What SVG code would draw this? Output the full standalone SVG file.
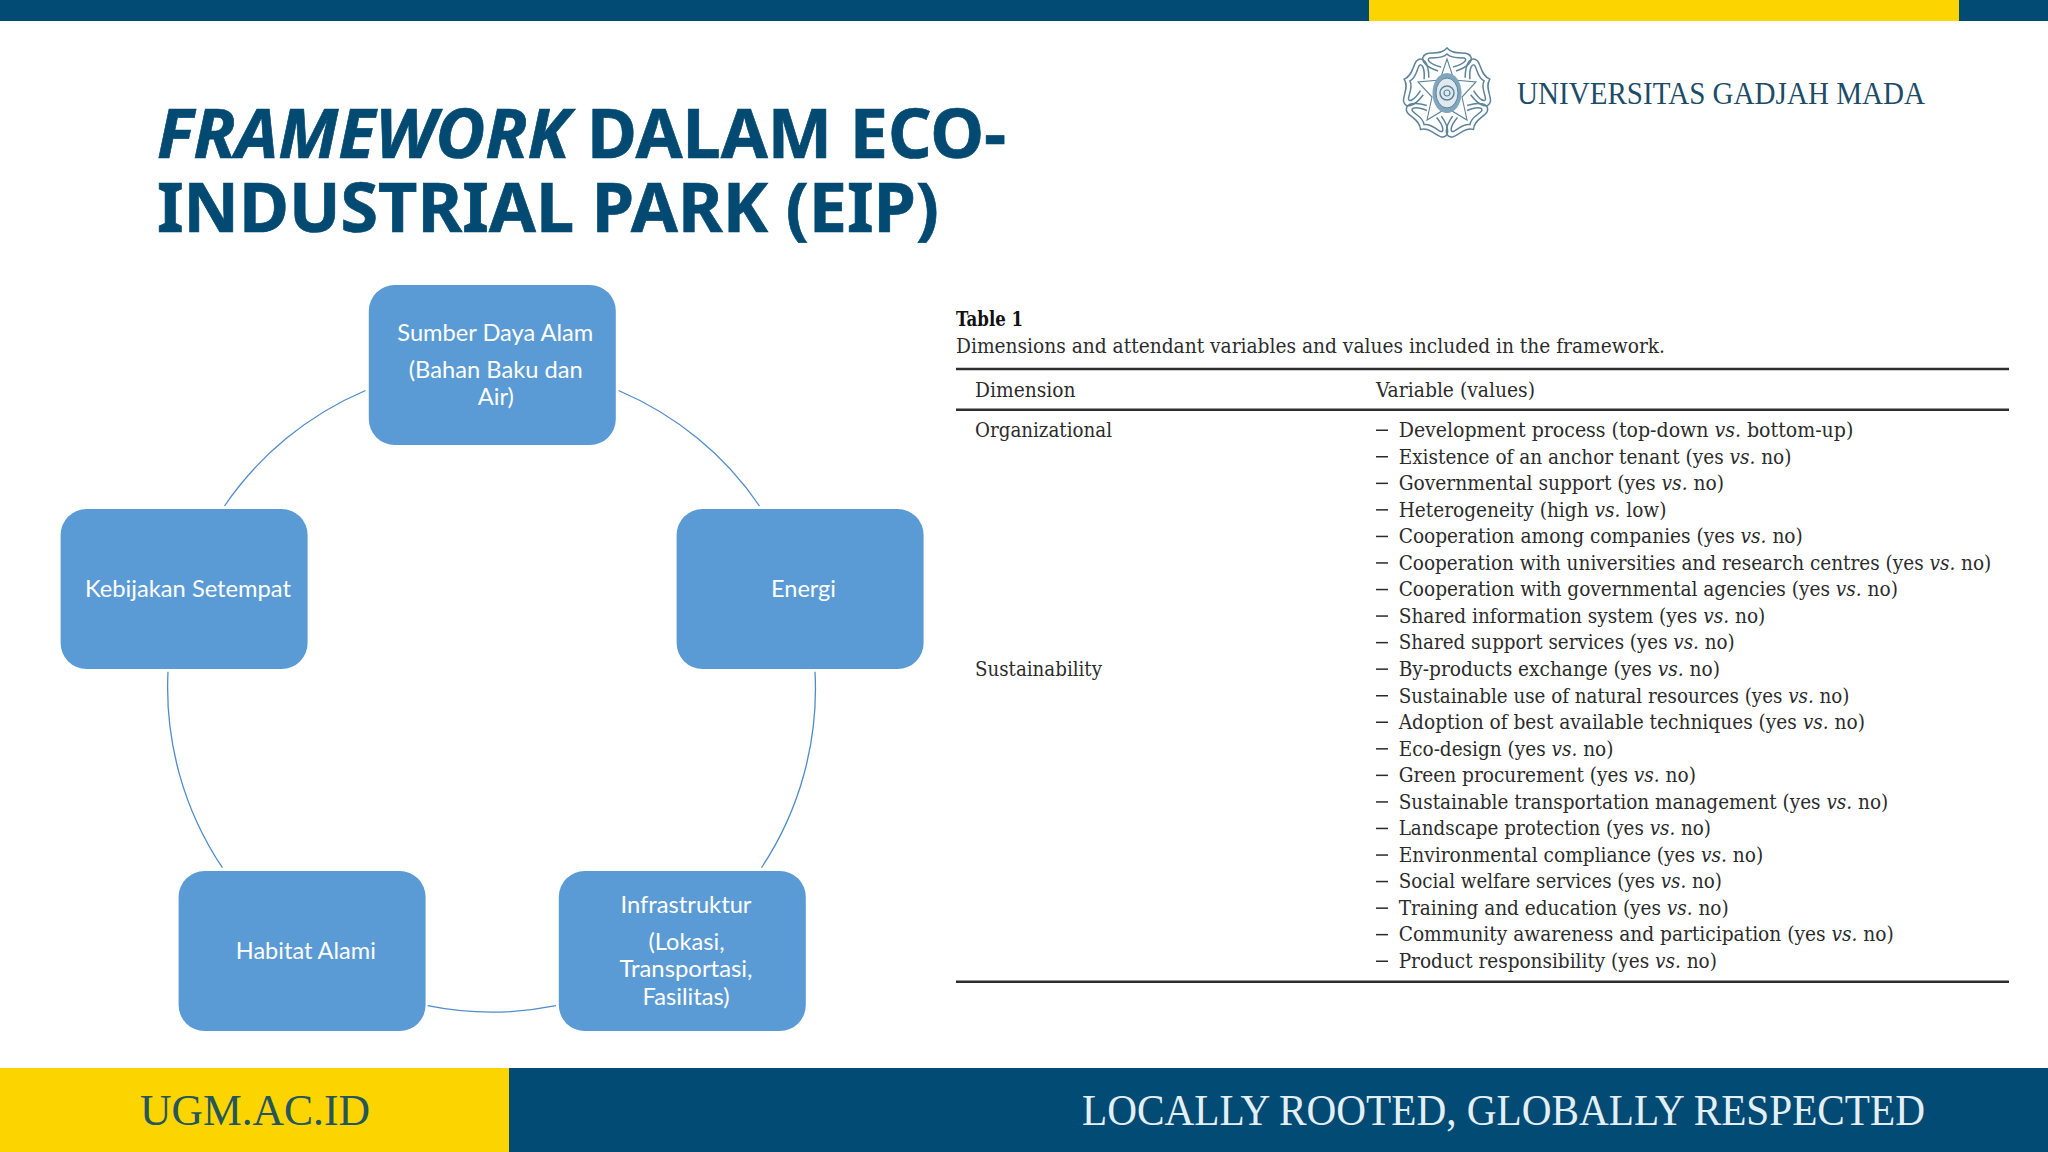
<svg xmlns="http://www.w3.org/2000/svg" xmlns:xlink="http://www.w3.org/1999/xlink" width="2048" height="1152" viewBox="0 0 2048 1152">
<style>
.navy{fill:#024b74}.gold{fill:#fcd500}
.title{font:700 68px "Noto Sans",sans-serif;fill:#034a73;stroke:#034a73;stroke-width:.7}
.n{fill:#5b9bd5}
.nt{font:24px Lato,"Noto Sans",sans-serif;fill:#fff;text-anchor:middle}
.arc{fill:none;stroke:#4f8cc9;stroke-width:1.3}
.tt{font:20px "DejaVu Serif Condensed","DejaVu Serif",serif;fill:#2b2b2b}
.tb{font-weight:700;fill:#111}
.rule{stroke:#2e2e2e;stroke-width:2.4}
.brand{font-family:"Liberation Serif",serif}
.lg{fill:none;stroke:#5d8499;stroke-width:1.5}
</style>
<defs>
<g id="petal">
<path d="M-9,-22C-24,-27 -28,-35 -21,-39C-15,-41 -6,-38 0,-45C6,-38 15,-41 21,-39C28,-35 24,-27 9,-22"/>
<path d="M-6,-26C-18,-29 -21,-34 -17,-35C-11,-36 -5,-34 0,-39C5,-34 11,-36 17,-35C21,-34 18,-29 6,-26"/>
</g>
</defs>
<rect width="2048" height="1152" fill="#fff"/>
<g id="frame">
<rect class="navy" width="2048" height="21"/>
<rect class="gold" x="1369" width="590" height="21"/>
<rect class="gold" y="1068" width="509" height="84"/>
<rect class="navy" x="509" y="1068" width="1539" height="84"/>
<text class="brand" x="140" y="1125" font-size="45" fill="#24565c" textLength="230" lengthAdjust="spacingAndGlyphs">UGM.AC.ID</text>
<text class="brand" x="1082" y="1125" font-size="45" fill="#e4eff5" textLength="843" lengthAdjust="spacingAndGlyphs">LOCALLY ROOTED, GLOBALLY RESPECTED</text>
</g>
<g id="logo" transform="translate(1447 93)">
<g class="lg">
<use xlink:href="#petal"/><use xlink:href="#petal" transform="rotate(72)"/><use xlink:href="#petal" transform="rotate(144)"/><use xlink:href="#petal" transform="rotate(216)"/><use xlink:href="#petal" transform="rotate(288)"/>
<path stroke-width="1.1" d="M0,-34L7,-13 29,-11 15,4 20,27 0,15 -20,27 -15,4 -29,-11 -7,-13Z"/>
</g>
<ellipse rx="14.500" ry="20" fill="#7fa6bd"/>
<ellipse rx="11" ry="15" fill="#dfe9ef" stroke="#5d8499"/>
<circle r="7" fill="none" stroke="#5d8499" stroke-width="1.5"/>
<circle r="3" fill="none" stroke="#5d8499" stroke-width="1.2"/>
</g>
<text class="brand" x="1517" y="104" font-size="32" fill="#1d4c68" textLength="408" lengthAdjust="spacingAndGlyphs">UNIVERSITAS GADJAH MADA</text>
<text id="title" class="title"><tspan x="157" y="158" textLength="849" lengthAdjust="spacingAndGlyphs"><tspan font-style="italic">FRAMEWORK</tspan> DALAM ECO-</tspan><tspan x="157" y="232" textLength="782" lengthAdjust="spacingAndGlyphs">INDUSTRIAL PARK (EIP)</tspan></text>
<g id="connectors">
<path class="arc" d="M618.5,390.5A323.5,323.5 0 0 1 759.5,506"/>
<path class="arc" d="M815,671.7A323.5,323.5 0 0 1 761.5,867.7"/>
<path class="arc" d="M556,1005.7A323.5,323.5 0 0 1 427.6,1005.7"/>
<path class="arc" d="M222.4,867.7A323.5,323.5 0 0 1 168,671.7"/>
<path class="arc" d="M224.5,506A323.5,323.5 0 0 1 365.5,390.5"/>
</g>
<g id="node-sumber"><rect class="n" x="368.800" y="285" width="247" height="160" rx="26"/>
<text class="nt" x="495.3" y="341" textLength="196" lengthAdjust="spacingAndGlyphs">Sumber Daya Alam</text>
<text class="nt" x="495.8" y="378" textLength="174" lengthAdjust="spacingAndGlyphs">(Bahan Baku dan</text>
<text class="nt" x="495.8" y="405" textLength="36" lengthAdjust="spacingAndGlyphs">Air)</text></g>
<g id="node-energi"><rect class="n" x="676.600" y="509" width="247" height="160" rx="26"/>
<text class="nt" x="803.5" y="597" textLength="65" lengthAdjust="spacingAndGlyphs">Energi</text></g>
<g id="node-infrastruktur"><rect class="n" x="558.800" y="871" width="247" height="160" rx="26"/>
<text class="nt" x="686" y="913" textLength="131" lengthAdjust="spacingAndGlyphs">Infrastruktur</text>
<text class="nt" x="686.5" y="950" textLength="76" lengthAdjust="spacingAndGlyphs">(Lokasi,</text>
<text class="nt" x="686" y="977" textLength="133" lengthAdjust="spacingAndGlyphs">Transportasi,</text>
<text class="nt" x="686" y="1005" textLength="87" lengthAdjust="spacingAndGlyphs">Fasilitas)</text></g>
<g id="node-habitat"><rect class="n" x="178.600" y="871" width="247" height="160" rx="26"/>
<text class="nt" x="305.800" y="959" textLength="140" lengthAdjust="spacingAndGlyphs">Habitat Alami</text></g>
<g id="node-kebijakan"><rect class="n" x="60.600" y="509" width="247" height="160" rx="26"/>
<text class="nt" x="188" y="597" textLength="206" lengthAdjust="spacingAndGlyphs">Kebijakan Setempat</text></g>
<g id="table">
<text class="tt tb" x="956" y="325.700" textLength="67" lengthAdjust="spacingAndGlyphs">Table 1</text>
<text class="tt" x="956" y="352.700" textLength="709" lengthAdjust="spacingAndGlyphs">Dimensions and attendant variables and values included in the framework.</text>
<line class="rule" x1="956" y1="369" x2="2009" y2="369"/>
<text class="tt" x="975" y="396.700" textLength="100.500" lengthAdjust="spacingAndGlyphs">Dimension</text>
<text class="tt" x="1376" y="396.700" textLength="159" lengthAdjust="spacingAndGlyphs">Variable (values)</text>
<line class="rule" x1="956" y1="409.700" x2="2009" y2="409.700"/>
<text class="tt" x="975" y="437" textLength="137" lengthAdjust="spacingAndGlyphs">Organizational</text>
<text class="tt" x="975" y="676" textLength="127" lengthAdjust="spacingAndGlyphs">Sustainability</text>
<g id="dashes" fill="#2b2b2b">
<rect x="1376" y="429.500" width="12" height="1.500"/><rect x="1376" y="456" width="12" height="1.500"/><rect x="1376" y="482.600" width="12" height="1.500"/><rect x="1376" y="509.100" width="12" height="1.500"/><rect x="1376" y="535.700" width="12" height="1.500"/><rect x="1376" y="562.200" width="12" height="1.500"/><rect x="1376" y="588.800" width="12" height="1.500"/><rect x="1376" y="615.300" width="12" height="1.500"/><rect x="1376" y="641.900" width="12" height="1.500"/><rect x="1376" y="668.400" width="12" height="1.500"/><rect x="1376" y="695" width="12" height="1.500"/><rect x="1376" y="721.500" width="12" height="1.500"/><rect x="1376" y="748.100" width="12" height="1.500"/><rect x="1376" y="774.600" width="12" height="1.500"/><rect x="1376" y="801.200" width="12" height="1.500"/><rect x="1376" y="827.700" width="12" height="1.500"/><rect x="1376" y="854.300" width="12" height="1.500"/><rect x="1376" y="880.800" width="12" height="1.500"/><rect x="1376" y="907.400" width="12" height="1.500"/><rect x="1376" y="933.900" width="12" height="1.500"/><rect x="1376" y="960.500" width="12" height="1.500"/>
</g>
<g id="rows">
<text class="tt" x="1398.700" y="437" textLength="454.600" lengthAdjust="spacingAndGlyphs">Development process (top-down <tspan font-style="italic">vs.</tspan> bottom-up)</text>
<text class="tt" x="1398.700" y="463.500" textLength="392.700" lengthAdjust="spacingAndGlyphs">Existence of an anchor tenant (yes <tspan font-style="italic">vs.</tspan> no)</text>
<text class="tt" x="1398.700" y="490.100" textLength="325.300" lengthAdjust="spacingAndGlyphs">Governmental support (yes <tspan font-style="italic">vs.</tspan> no)</text>
<text class="tt" x="1398.700" y="516.600" textLength="267.700" lengthAdjust="spacingAndGlyphs">Heterogeneity (high <tspan font-style="italic">vs.</tspan> low)</text>
<text class="tt" x="1398.700" y="543.200" textLength="404.100" lengthAdjust="spacingAndGlyphs">Cooperation among companies (yes <tspan font-style="italic">vs.</tspan> no)</text>
<text class="tt" x="1398.700" y="569.700" textLength="592.600" lengthAdjust="spacingAndGlyphs">Cooperation with universities and research centres (yes <tspan font-style="italic">vs.</tspan> no)</text>
<text class="tt" x="1398.700" y="596.300" textLength="499.200" lengthAdjust="spacingAndGlyphs">Cooperation with governmental agencies (yes <tspan font-style="italic">vs.</tspan> no)</text>
<text class="tt" x="1398.700" y="622.800" textLength="366.600" lengthAdjust="spacingAndGlyphs">Shared information system (yes <tspan font-style="italic">vs.</tspan> no)</text>
<text class="tt" x="1398.700" y="649.400" textLength="335.900" lengthAdjust="spacingAndGlyphs">Shared support services (yes <tspan font-style="italic">vs.</tspan> no)</text>
<text class="tt" x="1398.700" y="675.900" textLength="321.200" lengthAdjust="spacingAndGlyphs">By-products exchange (yes <tspan font-style="italic">vs.</tspan> no)</text>
<text class="tt" x="1398.700" y="702.500" textLength="450.800" lengthAdjust="spacingAndGlyphs">Sustainable use of natural resources (yes <tspan font-style="italic">vs.</tspan> no)</text>
<text class="tt" x="1398.700" y="729" textLength="466.300" lengthAdjust="spacingAndGlyphs">Adoption of best available techniques (yes <tspan font-style="italic">vs.</tspan> no)</text>
<text class="tt" x="1398.700" y="755.600" textLength="214.700" lengthAdjust="spacingAndGlyphs">Eco-design (yes <tspan font-style="italic">vs.</tspan> no)</text>
<text class="tt" x="1398.700" y="782.100" textLength="297.200" lengthAdjust="spacingAndGlyphs">Green procurement (yes <tspan font-style="italic">vs.</tspan> no)</text>
<text class="tt" x="1398.700" y="808.700" textLength="489.500" lengthAdjust="spacingAndGlyphs">Sustainable transportation management (yes <tspan font-style="italic">vs.</tspan> no)</text>
<text class="tt" x="1398.700" y="835.200" textLength="312.300" lengthAdjust="spacingAndGlyphs">Landscape protection (yes <tspan font-style="italic">vs.</tspan> no)</text>
<text class="tt" x="1398.700" y="861.800" textLength="364.500" lengthAdjust="spacingAndGlyphs">Environmental compliance (yes <tspan font-style="italic">vs.</tspan> no)</text>
<text class="tt" x="1398.700" y="888.300" textLength="323.300" lengthAdjust="spacingAndGlyphs">Social welfare services (yes <tspan font-style="italic">vs.</tspan> no)</text>
<text class="tt" x="1398.700" y="914.900" textLength="330" lengthAdjust="spacingAndGlyphs">Training and education (yes <tspan font-style="italic">vs.</tspan> no)</text>
<text class="tt" x="1398.700" y="941.400" textLength="495" lengthAdjust="spacingAndGlyphs">Community awareness and participation (yes <tspan font-style="italic">vs.</tspan> no)</text>
<text class="tt" x="1398.700" y="968" textLength="318.200" lengthAdjust="spacingAndGlyphs">Product responsibility (yes <tspan font-style="italic">vs.</tspan> no)</text>
</g>
<line class="rule" x1="956" y1="981.700" x2="2009" y2="981.700"/>
</g>
</svg>
